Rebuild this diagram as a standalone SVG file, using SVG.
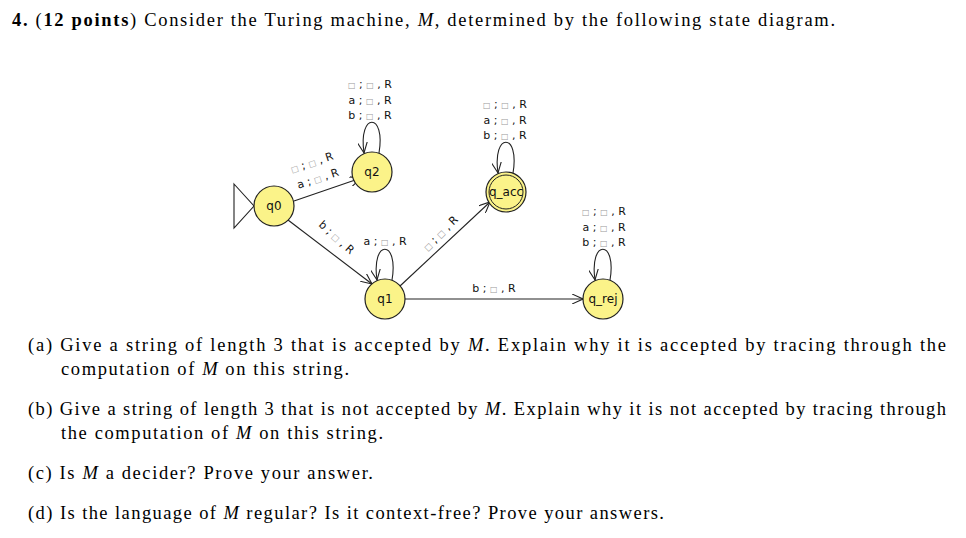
<svg xmlns="http://www.w3.org/2000/svg" width="966" height="538" viewBox="0 0 966 538">
<style>
.q{font-family:"Liberation Serif",serif;font-size:18.5px;fill:#000}
.s{fill:#fbf389;stroke:#222;stroke-width:1.2}
.n{font-family:"DejaVu Sans",sans-serif;font-size:12px;fill:#111;text-anchor:middle}
.l{font-family:"DejaVu Sans",sans-serif;font-size:11px;fill:#111;text-anchor:middle}
.b{fill:#999;font-size:8px}
.e{fill:none;stroke:#222;stroke-width:1.1}
</style>
<defs><marker id="a" viewBox="0 0 12 10" refX="11" refY="5" markerWidth="12" markerHeight="10" markerUnits="userSpaceOnUse" orient="auto"><path d="M0,0 L11,5 L0,10" fill="none" stroke="#222" stroke-width="1.1"/></marker></defs>
<text class="q" x="12" y="26" textLength="823" lengthAdjust="spacing"><tspan font-weight="bold">4.</tspan>  (<tspan font-weight="bold">12 points</tspan>) Consider the Turing machine, <tspan font-style="italic">M</tspan>, determined by the following state diagram.</text>
<g id="connectors">
<path class="e" d="M294,201 L361,178" marker-end="url(#a)"/>
<path class="e" d="M288,220 L372,284" marker-end="url(#a)"/>
<path class="e" d="M400,286 L490,202" marker-end="url(#a)"/>
<path class="e" d="M405,299 L583,299" marker-end="url(#a)"/>
<path class="e" d="M379,153 C386,112 358,112 364,153" marker-end="url(#a)"/>
<path class="e" d="M513,173 C520,132 492,132 498,173" marker-end="url(#a)"/>
<path class="e" d="M392,280 C399,239 371,239 377,280" marker-end="url(#a)"/>
<path class="e" d="M610,280 C617,239 589,239 595,280" marker-end="url(#a)"/>
<text class="l" transform="translate(313,166) rotate(-18)"><tspan class="b">□</tspan> ; <tspan class="b">□</tspan> , R</text>
<text class="l" transform="translate(319,182) rotate(-18)">a ; <tspan class="b">□</tspan> , R</text>
<text class="l" transform="translate(334,240) rotate(42)">b ; <tspan class="b">□</tspan> , R</text>
<text class="l" transform="translate(443,236) rotate(-45)"><tspan class="b">□</tspan> ; <tspan class="b">□</tspan> , R</text>
<text class="l" x="385" y="245">a ; <tspan class="b">□</tspan> , R</text>
<text class="l" x="494" y="292">b ; <tspan class="b">□</tspan> , R</text>
<text class="l" x="370" y="88"><tspan class="b">□</tspan> ; <tspan class="b">□</tspan> , R</text>
<text class="l" x="370" y="104">a ; <tspan class="b">□</tspan> , R</text>
<text class="l" x="370" y="119">b ; <tspan class="b">□</tspan> , R</text>
<text class="l" x="505" y="108"><tspan class="b">□</tspan> ; <tspan class="b">□</tspan> , R</text>
<text class="l" x="505" y="124">a ; <tspan class="b">□</tspan> , R</text>
<text class="l" x="505" y="139">b ; <tspan class="b">□</tspan> , R</text>
<text class="l" x="604" y="215"><tspan class="b">□</tspan> ; <tspan class="b">□</tspan> , R</text>
<text class="l" x="604" y="231">a ; <tspan class="b">□</tspan> , R</text>
<text class="l" x="604" y="246">b ; <tspan class="b">□</tspan> , R</text>
</g>
<g id="q0"><path d="M234,184 L254,206 L234,228 Z" fill="#fff" stroke="#222" stroke-width="1.1"/><circle class="s" cx="274" cy="206" r="20"/><text class="n" x="274" y="210">q0</text></g>
<g id="q2"><circle class="s" cx="372" cy="172" r="20"/><text class="n" x="372" y="176">q2</text></g>
<g id="q_acc"><circle class="s" cx="506" cy="192" r="20"/><circle fill="none" stroke="#222" stroke-width="1" cx="506" cy="192" r="17"/><text class="n" x="506" y="196">q_acc</text></g>
<g id="q1"><circle class="s" cx="385" cy="299" r="20"/><text class="n" x="385" y="303">q1</text></g>
<g id="q_rej"><circle class="s" cx="603" cy="299" r="20"/><text class="n" x="603" y="303">q_rej</text></g>
<text class="q" x="28" y="351" textLength="918" lengthAdjust="spacing">(a)  Give a string of length 3 that is accepted by <tspan font-style="italic">M</tspan>.  Explain why it is accepted by tracing through the</text>
<text class="q" x="61" y="375" textLength="288" lengthAdjust="spacing">computation of <tspan font-style="italic">M</tspan> on this string.</text>
<text class="q" x="28" y="415" textLength="918" lengthAdjust="spacing">(b)  Give a string of length 3 that is not accepted by <tspan font-style="italic">M</tspan>.  Explain why it is not accepted by tracing through</text>
<text class="q" x="61" y="439" textLength="322" lengthAdjust="spacing">the computation of <tspan font-style="italic">M</tspan> on this string.</text>
<text class="q" x="28" y="479" textLength="345" lengthAdjust="spacing">(c)  Is <tspan font-style="italic">M</tspan> a decider? Prove your answer.</text>
<text class="q" x="28" y="519" textLength="636" lengthAdjust="spacing">(d)  Is the language of <tspan font-style="italic">M</tspan> regular? Is it context-free? Prove your answers.</text>
</svg>
